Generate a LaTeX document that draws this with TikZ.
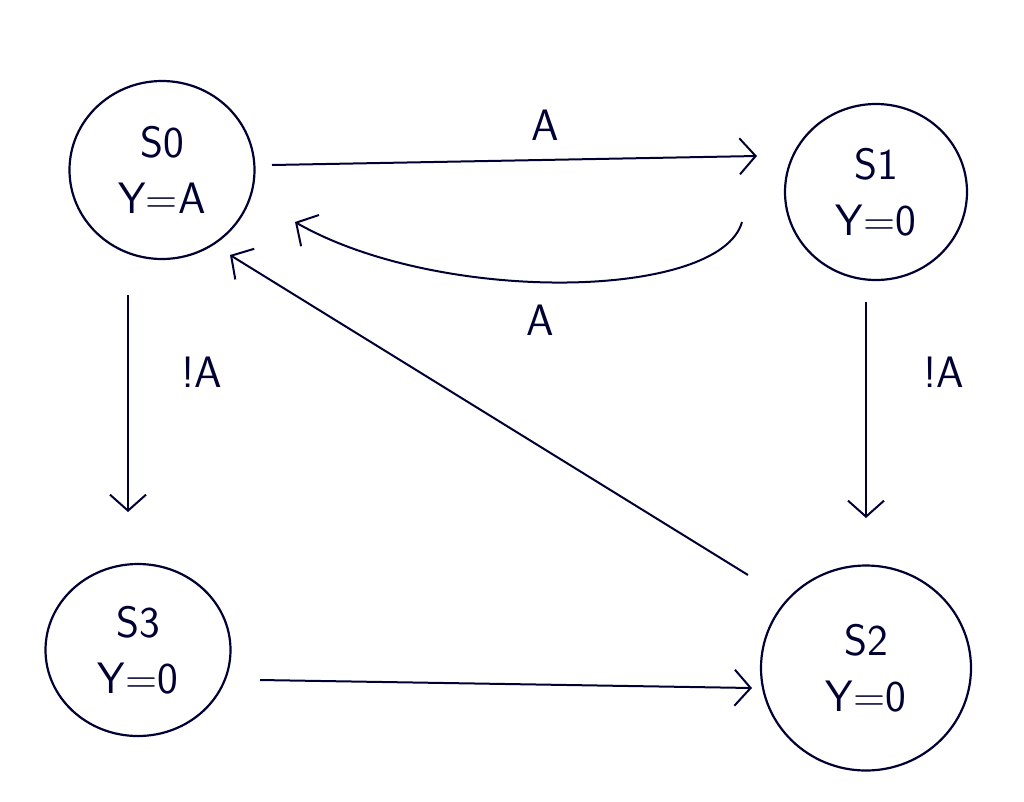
\documentclass[tikz,border=0pt]{standalone}
\usetikzlibrary{shapes.geometric,arrows.meta}
\begin{document}
\begin{tikzpicture}[x=1pt,y=-1pt,
  st/.style={draw=black!80!blue,line width=2.2pt,ellipse,align=center,font=\sffamily\fontsize{44}{56}\selectfont,text=black!80!blue},
  tr/.style={draw=black!80!blue,line width=2pt,-{Straight Barb[length=16pt,width=36pt,line width=2pt]}},
  lb/.style={font=\sffamily\fontsize{44}{48}\selectfont,text=black!80!blue}]
\useasboundingbox (0,0) rectangle (1024,801);
\node[st,minimum width=185pt,minimum height=178pt] (s0) at (162,170) {S0\\Y=A};
\node[st,minimum width=182pt,minimum height=176pt] (s1) at (876,192) {S1\\Y=0};
\node[st,minimum width=210pt,minimum height=205pt] (s2) at (866,668) {S2\\Y=0};
\node[st,minimum width=185pt,minimum height=172pt] (s3) at (138,650) {S3\\Y=0};
\coordinate (a0) at (272,165); \coordinate (a1) at (757,156);
\coordinate (b0) at (742,222); \coordinate (b1) at (295,222);
\coordinate (c0) at (128,295); \coordinate (c1) at (128,512);
\coordinate (d0) at (866,302); \coordinate (d1) at (866,518);
\coordinate (e0) at (260,680); \coordinate (e1) at (752,688);
\coordinate (f0) at (748,575); \coordinate (f1) at (230,255);
\draw[tr] (a0) -- (a1);
\draw[tr] (b0) .. controls (720,300) and (440,305) .. (b1);
\draw[tr] (c0) -- (c1);
\draw[tr] (d0) -- (d1);
\draw[tr] (e0) -- (e1);
\draw[tr] (f0) -- (f1);
\node[lb] (l1) at (545,125) {A};
\node[lb] (l2) at (540,320) {A};
\node[lb] (l3) at (202,372) {!A};
\node[lb] (l4) at (944,372) {!A};
\end{tikzpicture}
\end{document}
